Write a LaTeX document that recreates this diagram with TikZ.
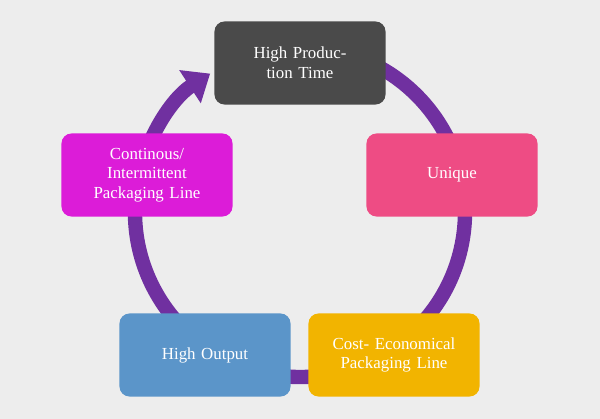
\documentclass[tikz,border=0pt]{standalone}
\usepackage{fontspec}
\setmainfont{Liberation Serif}
\usetikzlibrary{arrows.meta, positioning}
\definecolor{bggray}{HTML}{EDEDED}
\definecolor{ringpurple}{HTML}{7030A0}
\definecolor{boxdark}{HTML}{4A4A4A}
\definecolor{boxpink}{HTML}{EE4C84}
\definecolor{boxorange}{HTML}{F2B400}
\definecolor{boxblue}{HTML}{5B95C9}
\definecolor{boxmagenta}{HTML}{DC1CD8}

\begin{document}
\begin{tikzpicture}[x=0.025cm,y=-0.025cm]
	\tikzstyle{stage} = [rectangle, rounded corners=0.25cm, minimum width=4.275cm, minimum height=2.075cm, text width=3.6cm, align=center, text=white, font=\fontsize{12}{14}\selectfont, draw=none]

	\fill[bggray] (0,0) rectangle (600,419);

	\coordinate (ring) at (300,212);
	\draw[ringpurple, line width=0.36cm, -{Triangle[width=0.95cm,length=0.6cm]}]
		([shift={(-80:165)}]ring) arc[start angle=-80, end angle=237, radius=165];

	\node[stage, fill=boxdark] (time) at (300,63) {High Production Time};
	\node[stage, fill=boxpink] (unique) at (452,175) {Unique};
	\node[stage, fill=boxorange] (cost) at (394,355) {Cost- Economical\\Packaging Line};
	\node[stage, fill=boxblue] (output) at (205,355) {High Output};
	\node[stage, fill=boxmagenta] (line) at (147,175) {Continous/\\Intermittent\\Packaging Line};
\end{tikzpicture}
\end{document}
